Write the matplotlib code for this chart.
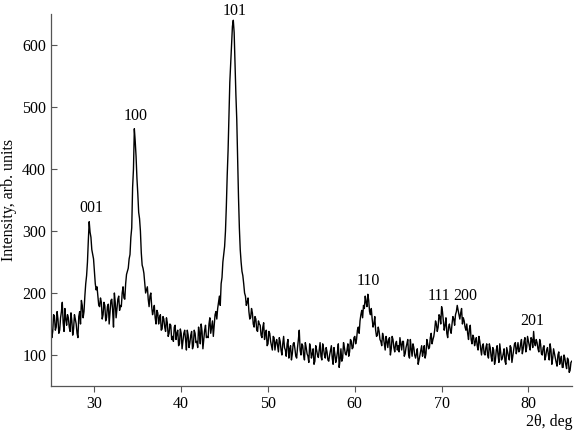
import numpy as np
import matplotlib.pyplot as plt

# 2theta grid start / step (deg), intensity
# at 25.0, 25.2, ... 85.0 deg
theta_start = 25.0
theta_step = 0.2
intensity = [
    150, 138, 162, 145, 158, 140, 170, 152, 175, 148,   # 25.0 - 26.8
    160, 138, 155, 142, 158, 135, 162, 150, 180, 170,   # 27.0 - 28.8
    215, 250, 315, 290, 262, 235, 205, 195, 178, 185,   # 29.0 - 30.8
    165, 180, 160, 182, 168, 190, 145, 185, 175, 195,   # 31.0 - 32.8
    180, 200, 192, 215, 235, 255, 290, 370, 465, 420,   # 33.0 - 34.8
    360, 320, 265, 240, 215, 205, 190, 195, 178, 172,   # 35.0 - 36.8
    160, 172, 150, 165, 142, 158, 138, 152, 135, 148,   # 37.0 - 38.8
    130, 145, 125, 140, 118, 135, 122, 140, 108, 132,   # 39.0 - 40.8
    120, 138, 115, 135, 122, 145, 118, 138, 125, 148,   # 41.0 - 42.8
    130, 150, 135, 155, 148, 170, 175, 195, 215, 250,   # 43.0 - 44.8
    275, 340, 430, 540, 600, 640, 570, 480, 355, 270,   # 45.0 - 46.8
    235, 215, 195, 185, 170, 160, 168, 145, 158, 138,   # 47.0 - 48.8
    150, 132, 145, 125, 140, 118, 135, 115, 130, 108,   # 49.0 - 50.8
    125, 105, 122, 100, 130, 108, 118, 95, 115, 102,    # 51.0 - 52.8
    120, 98, 112, 140, 100, 115, 92, 112, 98, 118,      # 53.0 - 54.8
    95, 110, 90, 108, 96, 120, 92, 110, 95, 105,        # 55.0 - 56.8
    90, 108, 95, 112, 88, 105, 80, 110, 95, 112,        # 57.0 - 58.8
    100, 118, 105, 122, 112, 130, 125, 145, 155, 172,   # 59.0 - 60.8
    180, 195, 178, 188, 165, 158, 150, 140, 132, 138,   # 61.0 - 62.8
    122, 135, 118, 130, 112, 128, 110, 125, 105, 122,   # 63.0 - 64.8
    115, 128, 108, 122, 102, 118, 100, 125, 98, 112,    # 65.0 - 66.8
    95, 110, 92, 108, 98, 115, 102, 118, 112, 135,      # 67.0 - 68.8
    125, 140, 150, 145, 162, 178, 155, 148, 135, 145,   # 69.0 - 70.8
    140, 150, 158, 165, 180, 165, 168, 150, 155, 140,   # 71.0 - 72.8
    135, 142, 125, 132, 115, 128, 108, 122, 100, 118,   # 73.0 - 74.8
    100, 118, 95, 112, 90, 108, 92, 115, 88, 105,       # 75.0 - 76.8
    95, 110, 85, 105, 92, 112, 98, 118, 102, 120,       # 77.0 - 78.8
    108, 125, 110, 128, 112, 122, 108, 125, 138, 115,   # 79.0 - 80.8
    120, 105, 118, 100, 115, 98, 112, 92, 108, 95,      # 81.0 - 82.8
    102, 88, 100, 85, 98, 80, 95, 78, 92, 75, 90,       # 83.0 - 85.0
]

# readings in between: 25.1, 25.3, ... 84.9 deg
intensity_mid = [
    128, 165, 140, 170, 135, 160, 185, 138, 158, 165,   # 25.1 - 26.9
    145, 168, 132, 165, 150, 128, 170, 188, 160, 195,   # 27.1 - 28.9
    228, 285, 298, 270, 255, 215, 210, 180, 192, 158,   # 29.1 - 30.9
    185, 155, 178, 150, 188, 172, 200, 160, 190, 172,   # 31.1 - 32.9
    178, 210, 190, 230, 240, 262, 305, 400, 445, 385,   # 33.1 - 34.9
    330, 300, 245, 232, 200, 210, 178, 200, 165, 180,   # 35.1 - 36.9
    150, 168, 160, 140, 162, 145, 160, 130, 150, 125,   # 37.1 - 38.9
    122, 148, 135, 115, 142, 110, 135, 125, 140, 112,   # 39.1 - 40.9
    132, 110, 140, 120, 112, 135, 150, 110, 140, 128,   # 41.1 - 42.9
    128, 160, 145, 130, 165, 158, 185, 180, 225, 262,   # 43.1 - 44.9
    300, 390, 485, 570, 630, 620, 520, 415, 305, 250,   # 45.1 - 46.9
    228, 200, 180, 192, 158, 175, 150, 162, 140, 155,   # 47.1 - 48.9
    148, 128, 152, 135, 115, 138, 122, 108, 128, 120,   # 49.1 - 50.9
    115, 128, 108, 118, 112, 98, 125, 110, 92, 118,     # 51.1 - 52.9
    110, 95, 125, 108, 118, 100, 120, 102, 88, 110,     # 53.1 - 54.9
    102, 85, 115, 100, 108, 98, 118, 100, 112, 92,      # 55.1 - 56.9
    100, 115, 85, 102, 95, 118, 92, 90, 120, 102,       # 57.1 - 58.9
    108, 98, 125, 110, 128, 118, 140, 135, 165, 160,    # 59.1 - 60.9
    175, 185, 198, 170, 175, 145, 162, 130, 145, 125,   # 61.1 - 62.9
    115, 128, 108, 122, 125, 100, 130, 112, 118, 108,   # 63.1 - 64.9
    105, 118, 122, 98, 112, 125, 95, 110, 118, 100,     # 65.1 - 66.9
    102, 85, 100, 115, 105, 95, 125, 110, 128, 118,     # 67.1 - 68.9
    130, 155, 138, 165, 150, 170, 140, 160, 128, 150,   # 69.1 - 70.9
    135, 162, 148, 170, 172, 158, 175, 160, 145, 150,   # 71.1 - 72.9
    125, 148, 118, 128, 122, 115, 130, 110, 115, 102,   # 73.1 - 74.9
    112, 100, 118, 98, 112, 85, 108, 100, 118, 92,      # 75.1 - 76.9
    102, 90, 112, 98, 115, 88, 108, 120, 110, 105,      # 77.1 - 78.9
    118, 102, 122, 105, 130, 115, 128, 112, 120, 125,   # 79.1 - 80.9
    110, 125, 102, 112, 92, 108, 100, 118, 85, 110,     # 81.1 - 82.9
    95, 82, 105, 92, 80, 100, 85, 95, 72, 88,           # 83.1 - 84.9
]

# reflection labels
hkl = ['001', '100', '101', '110', '111', '200', '201']
hkl_x = [29.7, 34.8, 46.1, 61.6, 69.75, 72.7, 80.5]
hkl_y = [337, 485, 655, 219, 195, 195, 155]


def main():
    plt.rcParams['font.family'] = ['Liberation Serif', 'DejaVu Serif']
    plt.rcParams['font.size'] = 11.5

    # merge the two sets of readings into one 0.1 deg series
    n = len(intensity_mid)
    values = np.empty(2 * n + 1)
    values[0::2] = intensity
    values[1::2] = intensity_mid
    theta = theta_start + theta_step / 2 * np.arange(len(values))

    fig = plt.figure(figsize=(5.77, 4.32), dpi=100)
    ax = fig.add_axes([0.0884, 0.1065, 0.9026, 0.861])

    ax.plot(theta, values, color='black', linewidth=1.0)

    for t, x, y in zip(hkl, hkl_x, hkl_y):
        ax.text(x, y, t, ha='center', va='center', clip_on=False)

    ax.set_xlim(25, 85)
    ax.set_ylim(50, 650)
    ax.set_xticks([30, 40, 50, 60, 70, 80])
    ax.set_yticks([100, 200, 300, 400, 500, 600])

    ax.spines['top'].set_visible(False)
    ax.spines['right'].set_visible(False)
    for s in ['left', 'bottom']:
        ax.spines[s].set_color('#555555')
        ax.spines[s].set_linewidth(0.9)
    ax.tick_params(axis='y', direction='in', length=4, color='#555555')
    ax.tick_params(axis='x', direction='out', length=4, color='#555555')

    ax.set_ylabel('Intensity, arb. units')
    fig.text(573 / 577, 1 - 422 / 432, '2θ, deg', ha='right', va='center')

    fig.savefig('out.png', dpi=100)


if __name__ == '__main__':
    main()
